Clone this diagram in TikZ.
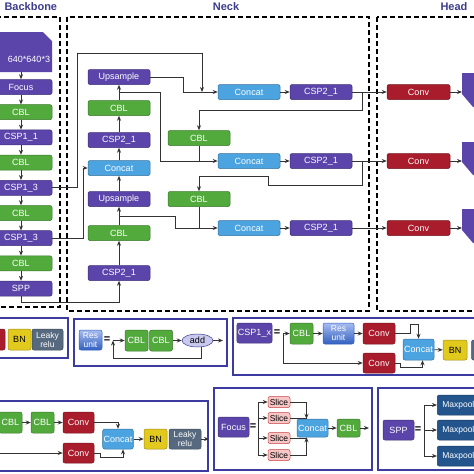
\documentclass[tikz,border=0pt]{standalone}
\usepackage{fontspec}
\setmainfont{Liberation Sans}
\usetikzlibrary{positioning, arrows.meta, calc, shapes.geometric}
\definecolor{YoloPurple}{HTML}{5B45AA}
\definecolor{YoloGreen}{HTML}{52AA3C}
\definecolor{YoloCyan}{HTML}{4BA3E0}
\definecolor{YoloRed}{HTML}{A81C2C}
\definecolor{YoloYellow}{HTML}{E2C91E}
\definecolor{YoloGray}{HTML}{56697E}
\definecolor{YoloNavy}{HTML}{3C3CA0}
\definecolor{YoloSteel}{HTML}{23558C}
\definecolor{SlicePink}{HTML}{F7C6C6}
\definecolor{SliceRed}{HTML}{C84040}
\definecolor{AddLilac}{HTML}{C9C9EE}
\definecolor{TitleBlue}{HTML}{3C3C8C}
\definecolor{ResTop}{HTML}{A8BCF0}
\definecolor{ResBot}{HTML}{3060C0}

\begin{document}
\begin{tikzpicture}[x=1pt, y=-1pt,
  blk/.style={rounded corners=2pt, line width=0.5pt, inner sep=1pt, text=white,
    minimum width=62pt, minimum height=15pt, align=center,
    font=\fontsize{9}{9.5}\selectfont},
  purp/.style={blk, fill=YoloPurple, draw=YoloPurple!70!black},
  grn/.style={blk, fill=YoloGreen, draw=YoloGreen!70!black},
  cct/.style={blk, fill=YoloCyan, draw=YoloCyan!70!black},
  redb/.style={blk, fill=YoloRed, draw=YoloRed!70!black},
  yel/.style={blk, fill=YoloYellow, draw=YoloYellow!70!black, text=black},
  gry/.style={blk, fill=YoloGray, draw=YoloGray!70!black, font=\fontsize{8.5}{9}\selectfont},
  resu/.style={blk, top color=ResTop, bottom color=ResBot, draw=ResBot,
    font=\fontsize{8.5}{9}\selectfont},
  slc/.style={blk, fill=SlicePink, draw=SliceRed, text=black, inner sep=0.5pt,
    minimum width=22pt, minimum height=11pt, font=\fontsize{8.5}{8.5}\selectfont},
  mxp/.style={blk, fill=YoloSteel, draw=YoloSteel!70!black, minimum height=20pt,
    text width=52pt, align=left, inner xsep=1.5pt, anchor=west,
    font=\fontsize{8.5}{9}\selectfont},
  small/.style={minimum width=23pt, minimum height=21pt},
  panel/.style={draw=YoloNavy, line width=1.8pt},
  zone/.style={draw=black, line width=1.6pt, dash pattern=on 5pt off 3pt},
  title/.style={font=\bfseries\fontsize{11}{12}\selectfont, text=TitleBlue},
  eq/.style={font=\bfseries\fontsize{11}{11}\selectfont, inner sep=0pt},
  arr/.style={-{Stealth[length=5pt, width=4pt]}, line width=0.9pt, black!80},
  wire/.style={line width=0.9pt, black!80},
]
  \useasboundingbox (0,0) rectangle (474,474);
  \fill[white] (0,0) rectangle (474,474);

  % Zones
  \draw[zone] (-5,17) rectangle (60,307);
  \draw[zone] (67,17) rectangle (369,311);
  \draw[zone] (377,17) rectangle (480,311);
  \node[title, anchor=west] (ttlb) at (1,7) {Backbone};
  \node[title] (ttln) at (226,7) {Neck};
  \node[title] (ttlh) at (454,7) {Head};

  % Backbone
  \fill[YoloPurple] (-10,32) -- (43,32) -- (52,41) -- (52,72) -- (-10,72) -- cycle;
  \node[text=white, font=\fontsize{9}{9.5}\selectfont] (inp) at (29,59) {640*640*3};
  \coordinate (inpb) at (21,72);
  \node[purp] (focus) at (21,87) {Focus};
  \node[grn, below=9.7pt of focus] (bcbl1) {CBL};
  \node[purp, below=9.7pt of bcbl1] (bcsp1) {CSP1\_1};
  \node[grn, below=9.7pt of bcsp1] (bcbl2) {CBL};
  \node[purp, below=9.7pt of bcbl2] (bcsp3a) {CSP1\_3};
  \node[grn, below=9.7pt of bcsp3a] (bcbl3) {CBL};
  \node[purp, below=9.7pt of bcbl3] (bcsp3b) {CSP1\_3};
  \node[grn, below=9.7pt of bcsp3b] (bcbl4) {CBL};
  \node[purp, below=9.7pt of bcbl4] (spp) {SPP};

  \draw[arr] (inpb) -- (focus);
  \foreach \a/\b in {focus/bcbl1, bcbl1/bcsp1, bcsp1/bcbl2, bcbl2/bcsp3a,
    bcsp3a/bcbl3, bcbl3/bcsp3b, bcsp3b/bcbl4, bcbl4/spp}
    \draw[arr] (\a) -- (\b);

  % Neck, left column
  \node[purp] (nup1) at (119,77) {Upsample};
  \node[grn] (ncbl1) at (119,108) {CBL};
  \node[purp] (ncsp1) at (119,140) {CSP2\_1};
  \node[cct] (ncat1) at (119,168) {Concat};
  \node[purp] (nup2) at (119,199) {Upsample};
  \node[grn] (ncbl2) at (119,233) {CBL};
  \node[purp] (ncsp2) at (119,273) {CSP2\_1};

  % Neck, right part
  \node[grn] (rcbl1) at (199,138) {CBL};
  \node[grn] (rcbl2) at (199,199) {CBL};
  \foreach \i/\y in {1/92, 2/161, 3/228} {
    \node[cct] (rcat\i) at (249,\y) {Concat};
    \node[purp] (rcsp\i) at (321,\y) {CSP2\_1};
  }

  % Head
  \foreach \i/\y/\t/\b in {1/92/73/107, 2/161/142/175, 3/228/209/243} {
    \node[redb, minimum width=63pt] (hconv\i) at (418.5,\y) {Conv};
    \fill[YoloPurple] (462,\t) -- (480,\t) -- (480,\b) -- (473,\b) -- (462,\b-13) -- cycle;
    \coordinate (hout\i) at (462,\y);
  }

  % Neck connectors
  \coordinate (nkm1) at (202,92);
  \draw[arr] (spp.south) -- ++(0,6) -| (ncsp2.south);
  \draw[arr] (bcsp3a.east) -| (77,53) -| (nkm1);
  \draw[arr] (bcsp3b.east) -- ++(31,0) |- (ncat1.west);
  \foreach \a/\b in {ncsp2/ncbl2, ncbl2/nup2, nup2/ncat1, ncat1/ncsp1,
    ncsp1/ncbl1, ncbl1/nup1}
    \draw[arr] (\a) -- (\b);
  \draw[arr] (nup1.east) -- ++(33,0) |- (rcat1.west);
  \coordinate (j1) at ($(ncbl1.north)!.5!(nup1.south)$);
  \draw[arr] (j1) -- ++(41,0) |- (rcat2.west);
  \draw[wire] (rcbl1.south) -- (rcbl1.south |- rcat2.west);
  \coordinate (j2) at ($(ncbl2.north)!.5!(nup2.south)$);
  \draw[arr] (j2) -- ++(56,0) |- (rcat3.west);
  \draw[wire] (rcbl2.south) -- (rcbl2.south |- rcat3.west);
  \foreach \i in {1,2,3} {
    \draw[arr] (rcat\i) -- (rcsp\i);
    \draw[arr] (rcsp\i) -- (hconv\i);
    \draw[arr] (hconv\i) -- (hout\i);
  }
  \coordinate (k1) at ($(rcsp1.east)+(10,0)$);
  \draw[arr] (k1) -- ++(0,18) -| (rcbl1.north);
  \coordinate (k2) at ($(rcsp2.east)+(10,0)$);
  \draw[arr] (k2) -- ++(0,24) -- ++(-94,0) -- ++(0,-9) -| (rcbl2.north);

  % Panel A: CBL
  \draw[panel] (-5,318) rectangle (68,358);
  \node[redb, minimum width=30pt, minimum height=21pt] (paconv) at (-10,339.5) {};
  \node[yel, small] (pabn) at (19.5,339.5) {BN};
  \node[gry, minimum width=31pt, minimum height=21pt] (palr) at (47.5,339.5) {Leaky\\relu};

  % Panel B: Res unit
  \draw[panel] (74,319) rectangle (227,366);
  \node[resu, minimum width=23pt, minimum height=20pt] (pbres) at (90.5,340) {Res\\unit};
  \node[eq] (pbeq) at (107,340) {=};
  \coordinate (pbj) at (113,340.5);
  \node[grn, small] (pbcbl1) at (136.5,340.5) {CBL};
  \node[grn, small] (pbcbl2) at (161,340.5) {CBL};
  \node[ellipse, draw=TitleBlue, fill=AddLilac, line width=0.5pt, minimum width=31pt,
    minimum height=13pt, inner sep=0pt, font=\fontsize{9}{9}\selectfont] (pbadd) at (197.5,340.5) {add};
  \coordinate (pbout) at (223,340.5);
  \draw[arr] (pbj) -- (pbcbl1);
  \draw[arr] (pbcbl2) -- (pbadd);
  \draw[arr] (pbadd) -- (pbout);
  \draw[arr] (pbadd.-60) |- ($(pbj)+(0,18)$) -- (pbj);

  % Panel C: CSP1_x
  \draw[panel] (233,318) rectangle (480,375);
  \node[purp, minimum width=35pt, minimum height=20pt] (pccsp) at (254.5,333) {CSP1\_x};
  \node[eq] (pceq) at (277,333) {=};
  \coordinate (pcj) at (283,333.5);
  \node[grn, small] (pccbl) at (301.5,333.5) {CBL};
  \node[resu, minimum width=31pt, minimum height=21pt] (pcres) at (338.5,333.5) {Res\\unit};
  \node[redb, minimum width=32pt, minimum height=21pt] (pcconv1) at (379,333.5) {Conv};
  \node[redb, minimum width=32pt, minimum height=20pt] (pcconv2) at (379,363) {Conv};
  \node[cct, minimum width=31pt, minimum height=21pt] (pccat) at (418.5,349.5) {Concat};
  \node[yel, minimum width=24pt, minimum height=20pt] (pcbn) at (455,350) {BN};
  \node[gry, minimum width=31pt, minimum height=20pt] (pclr) at (487,350) {};
  \draw[arr] (pcj) -- (pccbl);
  \draw[arr] (pccbl) -- (pcres);
  \draw[arr] (pcres) -- (pcconv1);
  \draw[arr] (pcconv1.east) -- ++(15,0) |- ($(pccat.north)+(0,-14)$) -- (pccat.north);
  \draw[arr] (pcj) |- (pcconv2.west);
  \draw[arr] (pcconv2.east) -- ++(5,0) |- ($(pccat.south)+(4,7)$) -- ($(pccat.south)+(4,0)$);
  \draw[arr] (pccat) -- (pcbn);

  % Panel D: CSP2_x
  \draw[panel] (-5,401) rectangle (208,471);
  \coordinate (pdj) at (-4,422.5);
  \node[grn, small] (pdcbl1) at (10.5,422.5) {CBL};
  \node[grn, small] (pdcbl2) at (42.5,422.5) {CBL};
  \node[redb, minimum width=31pt, minimum height=21pt] (pdconv1) at (78.5,422.5) {Conv};
  \node[redb, minimum width=31pt, minimum height=20pt] (pdconv2) at (78.5,453) {Conv};
  \node[cct, minimum width=30pt, minimum height=20pt] (pdcat) at (118,439) {Concat};
  \node[yel, minimum width=23pt, minimum height=20pt] (pdbn) at (155.5,439) {BN};
  \node[gry, minimum width=32pt, minimum height=20pt] (pdlr) at (185,439) {Leaky\\relu};
  \coordinate (pdout) at (209,439);
  \draw[arr] (pdcbl1) -- (pdcbl2);
  \draw[arr] (pdcbl2) -- (pdconv1);
  \draw[arr] (pdconv1.east) -| (pdcat.north);
  \draw[arr] (pdj) |- (pdconv2.west);
  \draw[arr] (pdconv2.east) -- ++(6,0) |- ($(pdcat.south)+(5,8)$) -- ($(pdcat.south)+(5,0)$);
  \draw[arr] (pdcat) -- (pdbn);
  \draw[arr] (pdlr) -- (pdout);

  % Panel E: Focus
  \draw[panel] (214,388) rectangle (372,470);
  \node[purp, minimum width=31pt, minimum height=20pt] (pefoc) at (233.5,427) {Focus};
  \node[eq] (peeq) at (253,427) {=};
  \coordinate (pej) at (258,428);
  \foreach \i/\y in {1/402, 2/418, 3/438, 4/455}
    \node[slc] (pesl\i) at (279,\y) {Slice};
  \node[cct, minimum width=31pt, minimum height=18pt] (pecat) at (312.5,428) {Concat};
  \node[grn, minimum width=23pt, minimum height=18pt] (pecbl) at (348.5,428) {CBL};
  \coordinate (peout) at (369,428);
  \coordinate (petop) at ($(pecat.north)+(-6,0)$);
  \coordinate (pebot) at ($(pecat.south)+(-6,0)$);
  \foreach \i in {1,2,3,4}
    \draw[arr] (pej) |- (pesl\i.west);
  \draw[arr] (pesl1.east) -| (petop);
  \draw[wire] (pesl2.east) -- (petop |- pesl2.east);
  \draw[arr] (pesl4.east) -| (pebot);
  \draw[wire] (pesl3.east) -- (pebot |- pesl3.east);
  \draw[arr] (pecat) -- (pecbl);
  \draw[arr] (pecbl) -- (peout);

  % Panel F: SPP
  \draw[panel] (378,388) rectangle (480,470);
  \node[purp, minimum width=31pt, minimum height=20pt] (pfspp) at (398.5,430) {SPP};
  \node[eq] (pfeq) at (418,430) {=};
  \coordinate (pfj) at (424,430);
  \foreach \i/\y in {1/405, 2/430, 3/456}
    \node[mxp] (pfmp\i) at (437,\y) {Maxpool};
  \draw[arr] (pfj) |- (pfmp1.west);
  \draw[arr] (pfj) -- (pfmp2.west);
  \draw[arr] (pfj) |- (pfmp3.west);
\end{tikzpicture}
\end{document}
